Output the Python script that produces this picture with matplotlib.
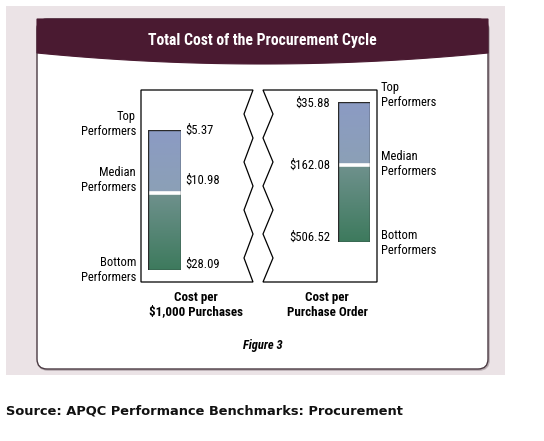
import numpy as np
import matplotlib
matplotlib.use("Agg")
import matplotlib.pyplot as plt
from matplotlib.patches import Rectangle, Polygon, FancyBboxPatch
from matplotlib import font_manager as fm
from matplotlib.colors import to_rgb

# ---------------- data ----------------
title = "Total Cost of the Procurement Cycle"
tiers = ["Top\nPerformers", "Median\nPerformers", "Bottom\nPerformers"]
tier_level = [1.0, 0.55, 0.0]          # schematic position of each tier on the bar
metrics = ["Cost per\n$1,000 Purchases", "Cost per\nPurchase Order"]
cost_per_1000 = [5.37, 10.98, 28.09]
cost_per_po = [35.88, 162.08, 506.52]
caption = "Figure 3"
source = "Source: APQC Performance Benchmarks: Procurement"

# ---------------- fonts ----------------
names = {f.name for f in fm.fontManager.ttflist}
COND = "Liberation Sans"
for cand in ["Roboto Condensed", "Archivo Narrow", "PT Sans Narrow", "Barlow Condensed"]:
    if cand in names:
        COND = cand
        break
fam = [COND, "DejaVu Sans"]

W, H = 544, 441
fig = plt.figure(figsize=(W / 100, H / 100), dpi=100)
fig.patch.set_facecolor("white")

ov = fig.add_axes([0, 0, 1, 1])
ov.set_xlim(0, W)
ov.set_ylim(H, 0)
ov.axis("off")

PX0, PX1, PY0, PY1 = 37, 488, 19, 369
CX = (PX0 + PX1) / 2

# background frame
ov.add_patch(Rectangle((6, 6), 499, 369, facecolor="#ebe3e6", edgecolor="none", zorder=0))
# white panel with rounded bottom corners (with a faint shadow)
ov.add_patch(FancyBboxPatch((PX0 + 1, PY0 + 1), PX1 - PX0, PY1 - PY0,
                            boxstyle="round,pad=0,rounding_size=10",
                            facecolor="none", edgecolor="#b9aeb3", lw=1.2, zorder=1))
ov.add_patch(FancyBboxPatch((PX0, PY0), PX1 - PX0, PY1 - PY0,
                            boxstyle="round,pad=0,rounding_size=10",
                            facecolor="white", edgecolor="#4a3a42", lw=1.0, zorder=1))
# header band with curved lower edge
xs = np.linspace(PX0, PX1, 200)
half = (PX1 - PX0) / 2
curve = 53 + 11 * (1 - ((xs - CX) / half) ** 2)
hdr = np.vstack([[PX0, PY0]] + [np.column_stack([xs, curve])] + [[PX1, PY0]])
ov.add_patch(Polygon(hdr, closed=True, facecolor="#4a1a31", edgecolor="#4a1a31", lw=0.8, zorder=2))
ov.text(CX, 40, title, color="white", fontsize=11.3, fontweight="bold", family=fam,
        ha="center", va="center", zorder=3)

# broken boxes
ys = [90, 114, 138, 162, 186, 210, 234, 258, 282]
zig_l = [(253 if i % 2 == 0 else 244, y) for i, y in enumerate(ys)]
zig_r = [(263 if i % 2 == 0 else 273, y) for i, y in enumerate(ys)]
left_box = [(253, 90), (141, 90), (141, 282), (253, 282)] + zig_l[::-1]
right_box = [(263, 90), (377, 90), (377, 282), (263, 282)] + zig_r[::-1]
for pts in (left_box, right_box):
    ov.add_patch(Polygon(pts, closed=True, facecolor="white", edgecolor="black", lw=0.9, zorder=3))

# metric labels
ov.text(196, 305, metrics[0], fontsize=9.4, fontweight="bold", family=fam,
        ha="center", va="center", linespacing=1.1, zorder=4)
ov.text(327, 305, metrics[1], fontsize=9.4, fontweight="bold", family=fam,
        ha="center", va="center", linespacing=1.1, zorder=4)
ov.text(CX, 346, caption, fontsize=9, fontweight="bold", style="italic", family=fam,
        ha="center", va="center", zorder=4)
ov.text(6, 411, source, fontsize=9.4, fontweight="bold", family=["DejaVu Sans"],
        ha="left", va="center", color="#111111", zorder=4)


def gradient_image(levels):
    top, med, bot = levels[0], levels[1], levels[2]
    n = 200
    yv = np.linspace(top, bot, n)
    c_top1, c_top2 = np.array(to_rgb("#8b9bc4")), np.array(to_rgb("#8ba0b6"))
    c_bot1, c_bot2 = np.array(to_rgb("#6f918d")), np.array(to_rgb("#3d7a5d"))
    img = np.zeros((n, 1, 3))
    for i, y in enumerate(yv):
        if y >= med:
            t = (top - y) / (top - med)
            img[i, 0] = c_top1 + (c_top2 - c_top1) * t
        else:
            t = (med - y) / (med - bot)
            img[i, 0] = c_bot1 + (c_bot2 - c_bot1) * t
    return img


def draw_bar(rect, values, value_side, val_offsets, tier_offsets):
    ax = fig.add_axes(rect)
    ax.set_xlim(-0.5, 0.5)
    ax.set_ylim(0, 1)
    ax.axis("off")
    ax.patch.set_alpha(0)
    top, med, bot = tier_level
    bars = ax.bar([0], [top - bot], bottom=[bot], width=1.0, color="none",
                  edgecolor="#2a2a2a", lw=1.0, zorder=3)
    im = ax.imshow(gradient_image(tier_level), extent=(-0.5, 0.5, bot, top),
                   aspect="auto", zorder=1, interpolation="bilinear")
    im.set_clip_path(bars.patches[0])
    ax.hlines(med, -0.5, 0.5, colors="white", lw=2.6, zorder=2)
    fmt = [f"${v:,.2f}" for v in values]
    for lvl, lab, off in zip(tier_level, fmt, val_offsets):
        xa = 0.5 if value_side == "right" else -0.5
        ha = "left" if value_side == "right" else "right"
        ax.annotate(lab, xy=(xa, lvl), xytext=off, textcoords="offset pixels",
                    ha=ha, va="center", fontsize=9.1, family=fam, annotation_clip=False)
    for lvl, lab, off in zip(tier_level, tiers, tier_offsets):
        xa = -0.5 if value_side == "right" else 0.5
        ha = "right" if value_side == "right" else "left"
        ax.annotate(lab, xy=(xa, lvl), xytext=off, textcoords="offset pixels",
                    ha=ha, va="center", fontsize=9, family=fam, linespacing=1.12,
                    annotation_clip=False)
    return ax


# left bar: pixel x 148..181, y 130..270
draw_bar([148 / W, (H - 270) / H, 33 / W, 140 / H], cost_per_1000, "right",
         val_offsets=[(4, 0), (4, 13), (4, 6)],
         tier_offsets=[(-12, 6), (-12, 13), (-12, 0)])
# right bar: pixel x 338..370, y 102..242
draw_bar([338 / W, (H - 242) / H, 32 / W, 140 / H], cost_per_po, "left",
         val_offsets=[(-8, -1), (-8, 0), (-8, 5)],
         tier_offsets=[(11, 7), (11, 1), (11, -1)])

fig.savefig("out.png", dpi=100, facecolor="white")
